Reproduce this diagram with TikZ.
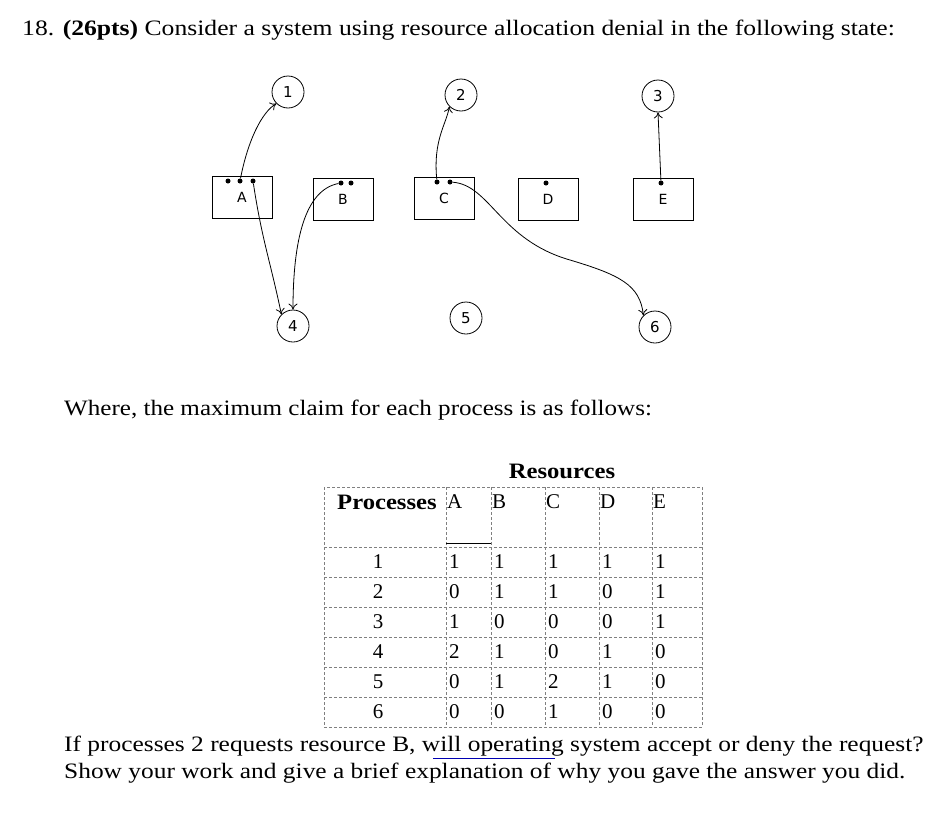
\documentclass[tikz,border=0pt]{standalone}
\usepackage{fontspec}
\setmainfont{Liberation Serif}
\newfontfamily\sans{DejaVu Sans}
\usetikzlibrary{arrows.meta}
\begin{document}
\begin{tikzpicture}[x=1pt,y=-1pt,
  box/.style={draw,thick,minimum width=60pt,minimum height=42pt,font=\sans\fontsize{14}{14}\selectfont,inner sep=0pt},
  circ/.style={draw,thick,circle,minimum size=32pt,inner sep=0pt,font=\sans\fontsize{15}{15}\selectfont},
  dot/.style={circle,fill,inner sep=0pt,minimum size=5pt},
  arr/.style={thick,-{To[length=6pt,width=9pt]}},
  txt/.style={anchor=west,font=\fontsize{22}{22}\selectfont,inner sep=0pt},
  cell/.style={font=\fontsize{21}{21}\selectfont,inner sep=0pt},
  grid/.style={draw=gray,densely dashed,thin}]
\useasboundingbox (0,0) rectangle (950,822);
\node[txt] (title) at (22,30) {\scalebox{1.165}[1]{18. \textbf{(26pts)} Consider a system using resource allocation denial in the following state:}};
\node[box] (A) at (242,197) {A};
\node[box] (B) at (343,199) {B};
\node[box] (C) at (444,198) {C};
\node[box] (D) at (548,199) {D};
\node[box] (E) at (663,199) {E};
\node[circ] (c1) at (288,92) {1};
\node[circ] (c2) at (461,95) {2};
\node[circ] (c3) at (658,96) {3};
\node[circ] (c4) at (293,326) {4};
\node[circ] (c5) at (466,318) {5};
\node[circ] (c6) at (655,327) {6};
\node[dot] (a1) at (228,181) {};
\node[dot] (a2) at (240,181) {};
\node[dot] (a3) at (253,181) {};
\node[dot] (b1) at (341,183) {};
\node[dot] (b2) at (351,183) {};
\node[dot] (cc1) at (437,182) {};
\node[dot] (cc2) at (450,182) {};
\node[dot] (d1) at (546,183) {};
\node[dot] (e1) at (661,183) {};
\draw[arr] (a2) .. controls (248,140) and (262,112) .. (c1.south west);
\draw[arr] (a3) .. controls (262,240) and (270,260) .. (c4.north west);
\draw[arr] (b1) .. controls (305,190) and (293,240) .. (c4.north);
\draw[arr] (cc1) .. controls (433,140) and (446,125) .. (c2.south west);
\draw[arr] (cc2) .. controls (490,185) and (500,240) .. (570,260) .. controls (620,275) and (640,285) .. (c6.north west);
\draw[arr] (e1) -- (c3.south);
\node[txt] (where) at (64,410) {\scalebox{1.14}[1]{Where, the maximum claim for each process is as follows:}};
\node[cell,font=\bfseries\fontsize{22}{22}\selectfont] (res) at (562,471) {\scalebox{1.12}[1]{Resources}};
\draw[grid] (324,487) rectangle (702,727);
\foreach \y in {547,577,607,637,667,697} \draw[grid] (324,\y) -- (702,\y);
\foreach \x in {446,491,545,599,652} \draw[grid] (\x,487) -- (\x,727);
\draw[thin] (446,543) -- (491,543);
\node[cell,anchor=west,font=\bfseries\fontsize{22}{22}\selectfont] (hp) at (337,502) {\scalebox{1.12}[1]{Processes}};
\foreach \t/\x in {A/446,B/491,C/545,D/599,E/652} \node[cell,anchor=west] at (\x+1,502) {\t};
\foreach \r/\vals [count=\i] in {1/{1,1,1,1,1},2/{0,1,1,0,1},3/{1,0,0,0,1},4/{2,1,0,1,0},5/{0,1,2,1,0},6/{0,0,1,0,0}}{
  \node[cell] at (378,532+30*\i) {\r};
  \foreach \v [count=\j] in \vals {
    \pgfmathsetmacro{\xx}{{0,446,491,545,599,652}[\j]}
    \node[cell,anchor=west] at (\xx+3,532+30*\i) {\v};
  }
}
\node[txt] (q1) at (64,746) {\scalebox{1.155}[1]{If processes 2 requests resource B, will operating system accept or deny the request?}};
\draw[blue!70!black,thick] (433,758) -- (555,758);
\node[txt] (q2) at (64,773) {\scalebox{1.155}[1]{Show your work and give a brief explanation of why you gave the answer you did.}};
\end{tikzpicture}
\end{document}
